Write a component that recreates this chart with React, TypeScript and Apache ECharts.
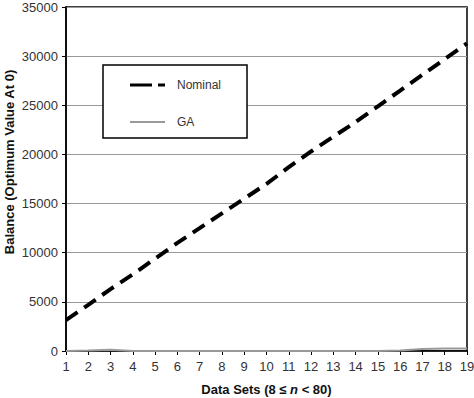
import React, { useEffect, useRef } from "react";
import * as echarts from "echarts";

const categories = ["1","2","3","4","5","6","7","8","9","10","11","12","13","14","15","16","17","18","19"];
const nominal = [3150, 4700, 6300, 7800, 9400, 11000, 12500, 14000, 15500, 17000, 18700, 20300, 21800, 23300, 24900, 26500, 28100, 29700, 31300];
const ga = [0, 40, 120, 0, 0, 0, 0, 0, 0, 0, 0, 0, 0, 0, 0, 60, 200, 250, 250];
const yTitle = "Balance (Optimum Value At 0)";

export default function App() {
  const ref = useRef<HTMLDivElement>(null);
  useEffect(() => {
    document.body.style.margin = "0";
    const chart = echarts.init(ref.current!, null, { renderer: "svg" });
    const font = "Liberation Sans, Arial, sans-serif";
    chart.setOption({
      animation: false,
      backgroundColor: "#fff",
      textStyle: { fontFamily: font },
      grid: { left: 66, right: 7, top: 7, bottom: 47, show: true, borderColor: "#000", borderWidth: 1.5, outerBoundsMode: "none", containLabel: false },
      graphic: [
        {
          type: "text",
          x: 9,
          y: 162,
          rotation: Math.PI / 2,
          style: { text: yTitle, fontSize: 13, fontWeight: "bold", fill: "#111", fontFamily: font, align: "center", verticalAlign: "middle" },
        },
      ],
      legend: {
        left: 103,
        top: 65,
        orient: "vertical",
        backgroundColor: "#fff",
        borderColor: "#000",
        borderWidth: 1.5,
        padding: [14, 26, 10, 27],
        itemGap: 25,
        itemWidth: 35,
        itemHeight: 10,
        textStyle: { fontFamily: font, fontSize: 12, color: "#333", padding: [0, 0, 0, 7] },
        data: [
          { name: "Nominal", icon: "path://M0,3.5H22V6.5H0ZM28,3.5H35V6.5H28Z" },
          { name: "GA", icon: "path://M0,4H35V6H0Z" },
        ],
      },
      xAxis: {
        type: "category",
        data: categories,
        boundaryGap: false,
        axisLine: { lineStyle: { color: "#000", width: 1.5 } },
        axisTick: { show: true, alignWithLabel: true, length: 4, lineStyle: { color: "#000" } },
        axisLabel: { color: "#333", fontSize: 13, margin: 9, fontFamily: font },
        name: "Data Sets (8 {u|≤} {i|n} < 80)",
        nameLocation: "middle",
        nameGap: 32,
        nameTextStyle: {
          fontSize: 13, fontWeight: "bold", color: "#111", fontFamily: font,
          rich: {
            u: { fontSize: 13, fontWeight: "bold", color: "#111", fontFamily: font },
            i: { fontSize: 13, fontWeight: "bold", fontStyle: "italic", color: "#111", fontFamily: font },
          },
        },
      },
      yAxis: {
        type: "value",
        min: 0,
        max: 35000,
        interval: 5000,
        axisLine: { show: true, lineStyle: { color: "#000", width: 1.5 } },
        axisTick: { show: true, length: 4, lineStyle: { color: "#000" } },
        axisLabel: { color: "#333", fontSize: 13, margin: 8, fontFamily: font, formatter: (v: number) => String(v) },
        splitLine: { lineStyle: { color: "#999", width: 1.2 } },
      },
      series: [
        {
          name: "Nominal",
          type: "line",
          data: nominal,
          showSymbol: false,
          symbol: "none",
          itemStyle: { color: "#000" },
          lineStyle: { color: "#000", width: 4, type: [14, 8] },
          z: 3,
        },
        {
          name: "GA",
          type: "line",
          data: ga,
          showSymbol: false,
          symbol: "none",
          itemStyle: { color: "#999" },
          lineStyle: { color: "#999", width: 2 },
          z: 2,
        },
      ],
    });
    return () => chart.dispose();
  }, []);
  return <div ref={ref} style={{ width: 474, height: 398 }} />;
}
